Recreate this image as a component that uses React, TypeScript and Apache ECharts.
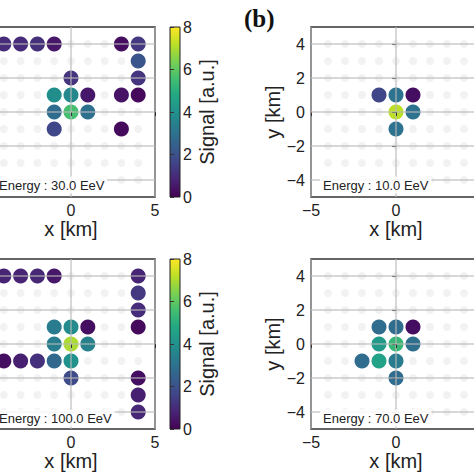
import React, { useEffect, useRef } from "react";
import * as echarts from "echarts";

// detector positions (km)
const detectorCoords = [-4, -3, -2, -1, 0, 1, 2, 3, 4];
const yTicks = [-4, -2, 0, 2, 4];
const xTicks = [-5, 0, 5];
const xLabelsLeft = [0, 5];
const xLabelsRight = [-5, 0];
const cbTicks = [0, 2, 4, 6, 8];

// [x km, y km, signal a.u.]
const panelA30: number[][] = [
  [-4, 4, 1.0], [-3, 4, 1.0], [-2, 4, 1.1], [-1, 4, 0.5], [3, 4, 0.3], [4, 4, 1.3],
  [4, 3, 2.1],
  [0, 2, 1.2], [4, 2, 1.2],
  [-1, 1, 3.9], [0, 1, 3.7], [1, 1, 0.5], [3, 1, 0.4], [4, 1, 0.15],
  [-1, 0, 2.8], [0, 0, 5.6], [1, 0, 2.9],
  [-1, -1, 1.7], [3, -1, 0.2],
];
const panelB10: number[][] = [
  [-1, 1, 1.7], [0, 1, 3.0], [1, 1, 0.3],
  [0, 0, 7.2], [1, 0, 3.0],
  [0, -1, 3.0],
];
const panelA100: number[][] = [
  [-4, 4, 0.8], [-3, 4, 0.8], [-2, 4, 0.9], [-1, 4, 0.5], [4, 4, 0.8],
  [4, 3, 1.3], [4, 2, 1.0],
  [-1, 1, 3.3], [0, 1, 3.8], [1, 1, 0.3], [4, 1, 0.2],
  [-1, 0, 3.4], [0, 0, 7.0], [1, 0, 3.5],
  [-4, -1, 0.3], [-3, -1, 0.7], [-2, -1, 1.1], [-1, -1, 2.7], [0, -1, 4.0],
  [0, -2, 1.8], [4, -2, 0.3],
  [4, -3, 0.7], [4, -4, 0.9],
];
const panelB70: number[][] = [
  [-1, 1, 2.8], [0, 1, 2.8], [1, 1, 0.3],
  [-1, 0, 4.3], [0, 0, 5.3], [1, 0, 2.9],
  [-2, -1, 2.8], [-1, -1, 4.6], [0, -1, 3.3],
  [0, -2, 2.8],
];
const energies = ["Energy : 30.0 EeV", "Energy : 10.0 EeV", "Energy : 100.0 EeV", "Energy : 70.0 EeV"];
const panels = [panelA30, panelB10, panelA100, panelB70];

const viridis = ["#440154", "#482475", "#414487", "#355f8d", "#2a788e", "#21918c", "#22a884", "#44bf70", "#7ad151", "#bddf26", "#fde725"];

const FONT = "Liberation Sans, Arial, sans-serif";
const INK = "#222";
const GRIDLINE = "rgba(185,185,185,0.75)";

export default function App() {
  const ref = useRef<HTMLDivElement>(null);
  useEffect(() => {
    if (!ref.current) return;
    const chart = echarts.init(ref.current, undefined, { renderer: "svg" });

    const bgDots: number[][] = [];
    detectorCoords.forEach((x) => detectorCoords.forEach((y) => bgDots.push([x, y])));

    const grids = [
      { left: -13, top: 27, width: 168, height: 170 },
      { left: 311, top: 27, width: 170, height: 170 },
      { left: -13, top: 259, width: 168, height: 170 },
      { left: 311, top: 259, width: 170, height: 170 },
    ];
    const isLeft = [true, false, true, false];
    const gradient = new echarts.graphic.LinearGradient(
      0, 1, 0, 0,
      viridis.map((c, i) => ({ offset: i / (viridis.length - 1), color: c }))
    );
    const cbGrids = [
      { left: 170, top: 27, width: 10, height: 170 },
      { left: 170, top: 259, width: 10, height: 170 },
    ];

    const minus = (v: number) => String(v).replace("-", "\u2212");

    const xAxes: any[] = [];
    const yAxes: any[] = [];
    const series: any[] = [];
    grids.forEach((g, i) => {
      xAxes.push({
        gridIndex: i, type: "value", min: -5, max: 5, interval: 5, z: 3,
        axisLine: { show: false },
        axisTick: { show: true, length: 4, lineStyle: { color: "#333" }, customValues: xTicks },
        axisLabel: {
          fontSize: 16, color: INK, fontFamily: FONT, margin: 5, formatter: minus,
          customValues: isLeft[i] ? xLabelsLeft : xLabelsRight,
        },
        splitLine: { show: true, lineStyle: { color: GRIDLINE, width: 1.5 } },
        name: "x [km]", nameLocation: "middle", nameGap: 20,
        nameTextStyle: { fontSize: 20, color: INK, fontFamily: FONT },
      });
      yAxes.push({
        gridIndex: i, type: "value", min: -5, max: 5, interval: 1, z: 3,
        axisLine: { show: false },
        axisTick: { show: !isLeft[i], length: 4, lineStyle: { color: "#333" }, customValues: yTicks },
        axisLabel: { show: !isLeft[i], fontSize: 16, color: INK, fontFamily: FONT, margin: 6, formatter: minus, customValues: yTicks },
        splitLine: { show: false },
        name: isLeft[i] ? "" : "y [km]", nameLocation: "middle", nameGap: 17,
        nameTextStyle: { fontSize: 20, color: INK, fontFamily: FONT },
      });
      series.push({
        type: "scatter", xAxisIndex: i, yAxisIndex: i, data: bgDots, symbolSize: 8,
        itemStyle: { color: "#efefef" }, silent: true, z: 1,
      });
    });

    const coloredIdx: number[] = [];
    panels.forEach((p, i) => {
      coloredIdx.push(series.length);
      series.push({
        type: "scatter", xAxisIndex: i, yAxisIndex: i, data: p, symbolSize: 15, z: 2,
        itemStyle: { opacity: 1 },
      });
    });

    // horizontal grid lines drawn above the markers
    grids.forEach((g, i) => {
      series.push({
        type: "scatter", xAxisIndex: i, yAxisIndex: i, data: [], z: 3, silent: true,
        markLine: {
          silent: true, symbol: "none", animation: false,
          label: { show: false },
          lineStyle: { color: GRIDLINE, width: 1.5, type: "solid" },
          data: yTicks.map((v) => ({ yAxis: v })),
        },
      });
    });

    cbGrids.forEach((g, k) => {
      const gi = grids.length + k;
      xAxes.push({ gridIndex: gi, type: "value", min: 0, max: 1, show: false });
      yAxes.push({
        gridIndex: gi, type: "value", min: 0, max: 8, interval: 2, position: "right",
        axisLine: { show: false },
        axisTick: { show: true, length: 4, lineStyle: { color: "#333" }, customValues: cbTicks },
        axisLabel: { fontSize: 16, color: INK, fontFamily: FONT, margin: 3, customValues: cbTicks },
        splitLine: { show: false },
        name: "Signal [a.u.]", nameLocation: "middle", nameGap: 17, nameRotate: 90,
        nameTextStyle: { fontSize: 20, color: INK, fontFamily: FONT },
      });
    });

    const allGrids = [
      ...grids.map((g) => ({ ...g, outerBoundsMode: "none", containLabel: false, show: true, borderColor: "#333", borderWidth: 1.5, backgroundColor: "#fff" })),
      ...cbGrids.map((g) => ({ ...g, outerBoundsMode: "none", containLabel: false, show: true, borderColor: "#222", borderWidth: 1, backgroundColor: gradient })),
    ];

    const textPos = [[-4, 185], [320, 185], [-4, 418], [320, 418]];
    const graphic: any[] = energies.map((t, i) => ({
      type: "text", x: textPos[i][0], y: textPos[i][1], z: 10,
      style: {
        text: t, fontSize: 13, fill: INK, fontFamily: FONT, verticalAlign: "middle",
        backgroundColor: "rgba(255,255,255,0.85)", padding: [2, 3],
      },
    }));
    graphic.push({
      type: "text", x: 244, y: 18, z: 10,
      style: { text: "(b)", fontSize: 25, fontWeight: "bold", fill: "#111", verticalAlign: "middle", fontFamily: "Liberation Serif, Times New Roman, serif" },
    });

    chart.setOption({
      animation: false,
      backgroundColor: "#fff",
      grid: allGrids,
      xAxis: xAxes,
      yAxis: yAxes,
      visualMap: {
        type: "continuous", show: false, min: 0, max: 8, dimension: 2,
        seriesIndex: coloredIdx, inRange: { color: viridis },
      },
      series,
      graphic,
    });
    return () => chart.dispose();
  }, []);
  return <div ref={ref} style={{ position: "fixed", left: 0, top: 0, width: 474, height: 474 }} />;
}
